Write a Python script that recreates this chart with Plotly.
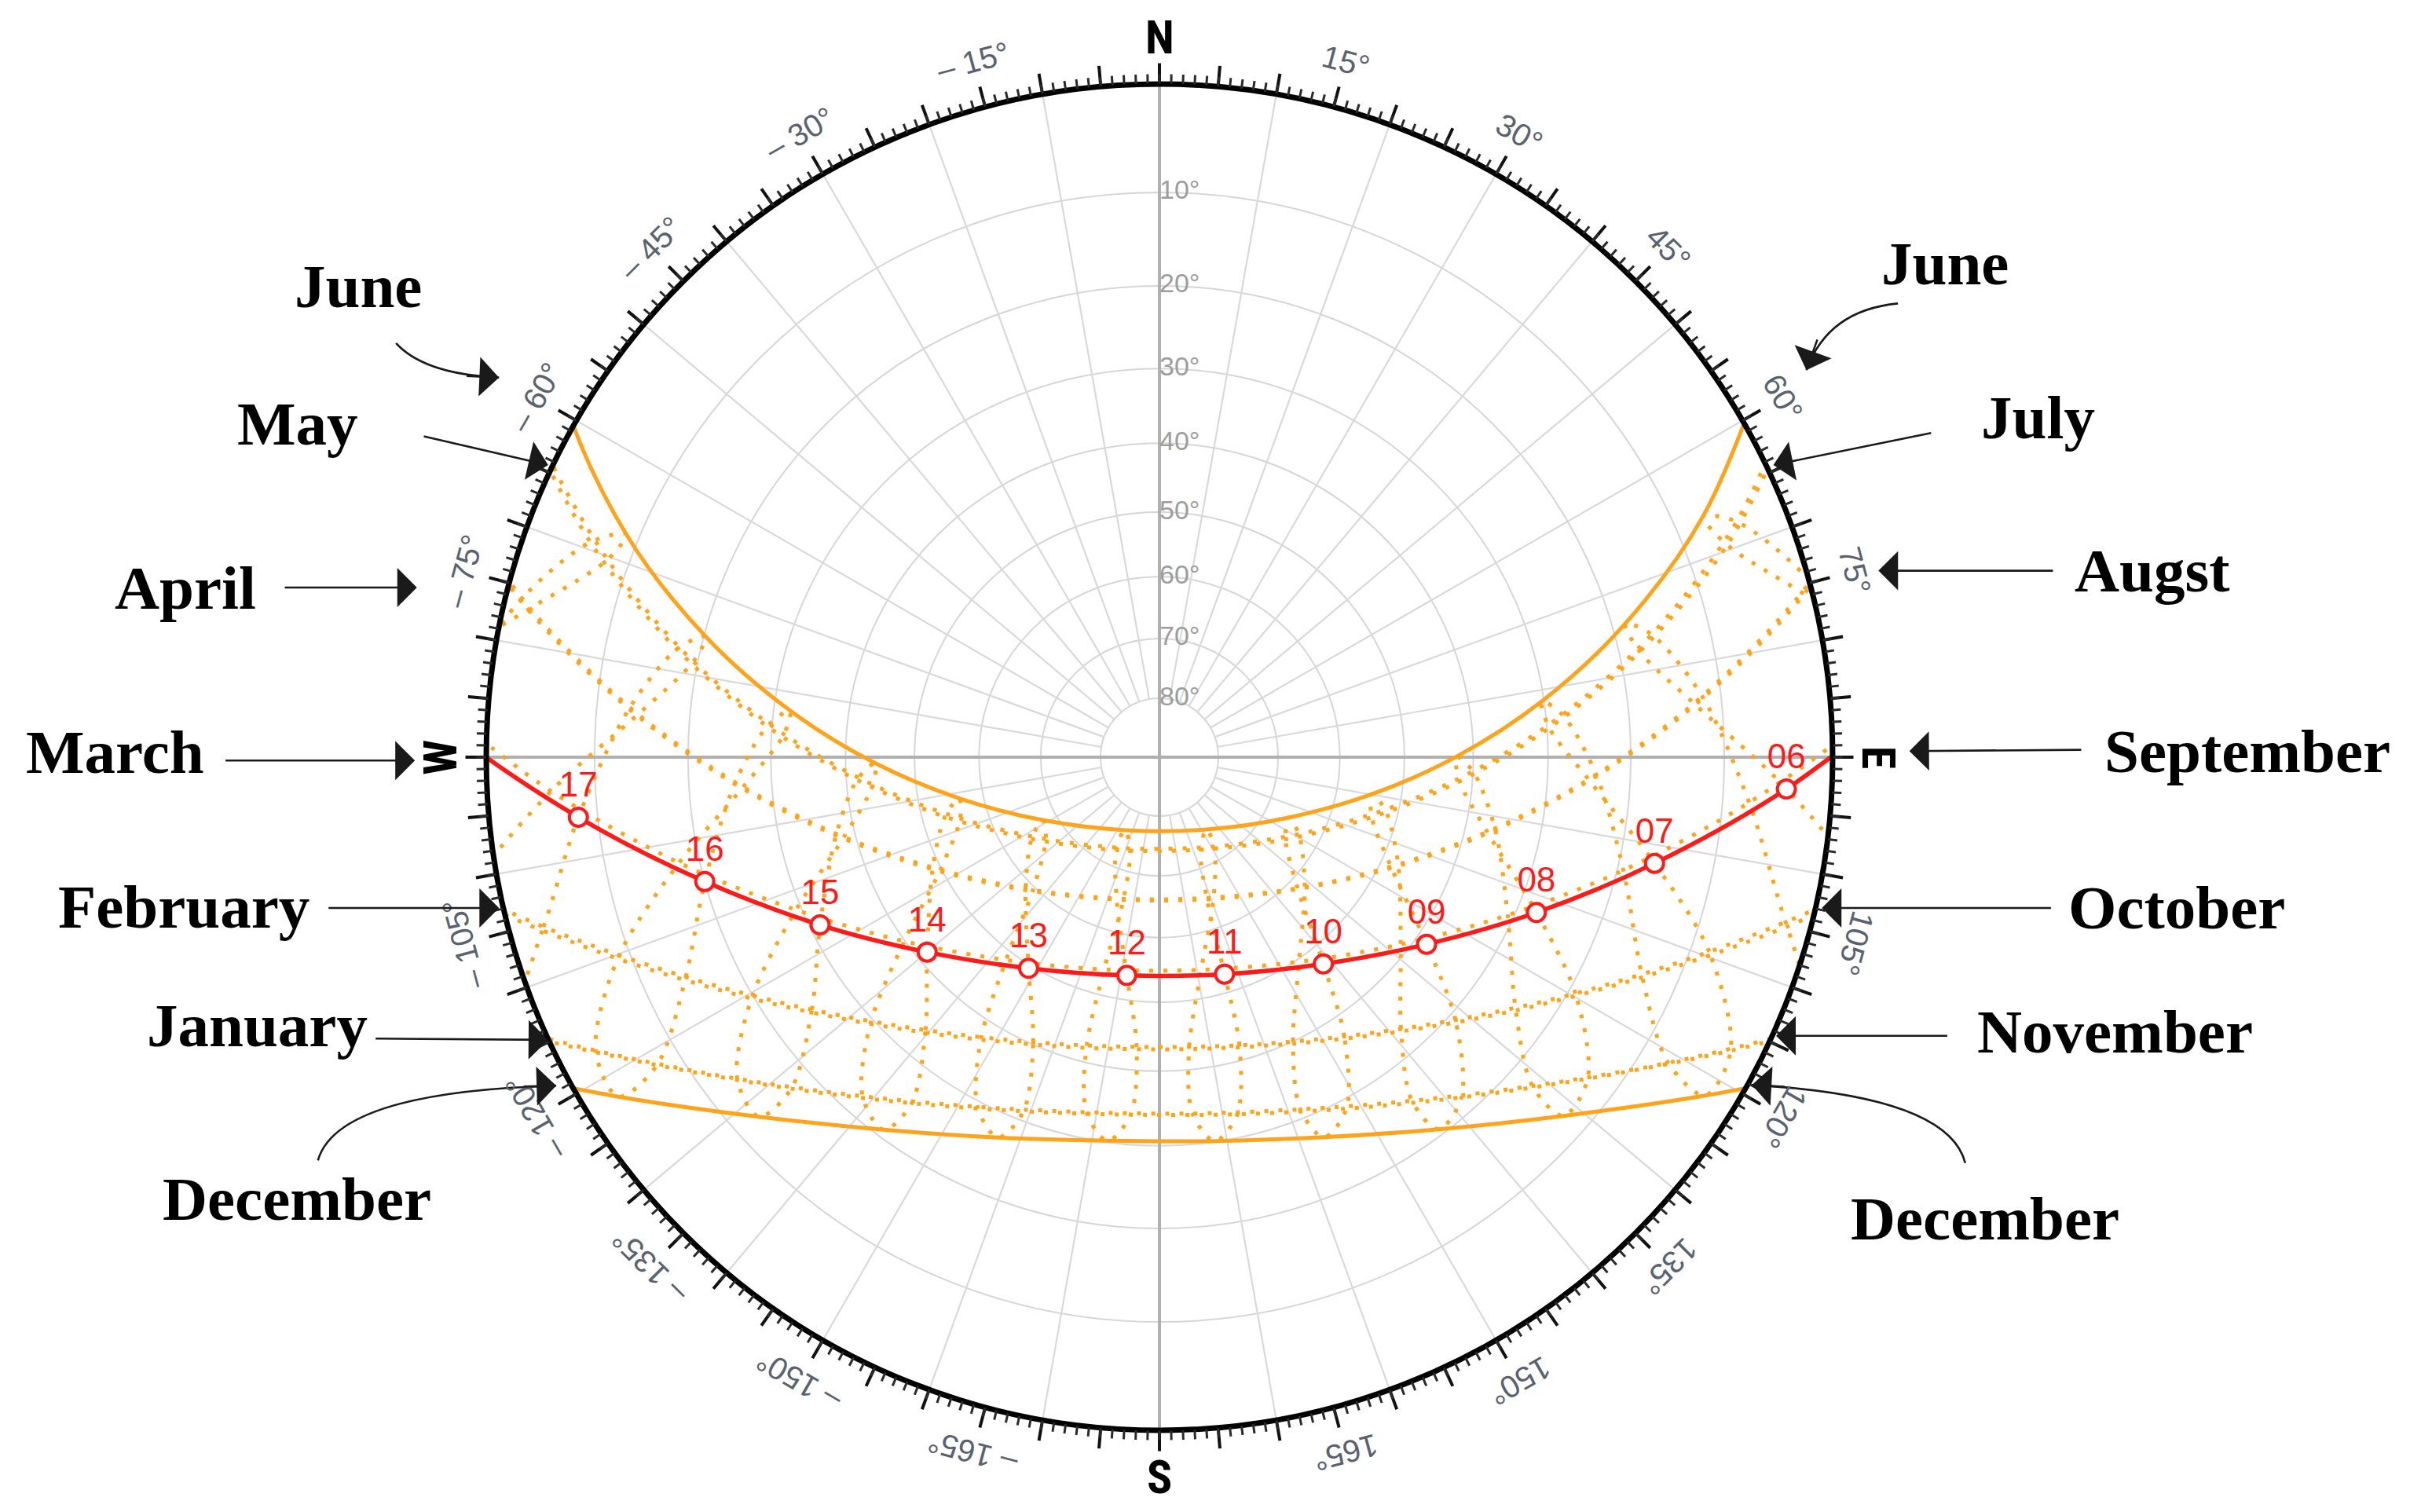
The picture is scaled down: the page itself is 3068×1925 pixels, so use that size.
import math
import plotly.graph_objects as go

# sun positions on the 21st of each month, clock hours 04..20 (None = far below horizon)
HOURS = list(range(4, 21))
MONTHS = ["Jan", "Feb", "Mar", "Apr", "May", "Jun", "Jul", "Aug", "Sep", "Oct", "Nov", "Dec"]

alt_jan = [None, None, -8.5, 2.7, 13.0, 21.9, 28.8, 33.0, 33.9, 31.2, 25.4, 17.3, 7.6, -3.2, -14.7, None, None]
az_jan = [None, None, 108.6, 117.2, 126.9, 138.4, 152.0, 167.7, 184.6, 201.0, 215.6, 228.0, 238.5, 247.5, 255.8, None, None]
alt_feb = [None, -15.6, -3.5, 8.2, 19.2, 29.1, 37.1, 42.1, 43.3, 40.3, 33.8, 24.9, 14.4, 3.0, -8.9, None, None]
az_feb = [None, 91.9, 100.5, 109.5, 119.6, 131.6, 146.5, 164.5, 184.5, 203.9, 220.6, 234.0, 245.1, 254.6, 263.3, None, None]
alt_mar = [None, -8.1, 4.0, 16.1, 27.6, 38.3, 47.2, 52.8, 53.7, 49.5, 41.5, 31.3, 20.0, 8.1, -4.0, -16.1, None]
az_mar = [None, 84.1, 92.9, 102.1, 112.4, 125.0, 141.6, 163.3, 188.5, 211.8, 230.0, 243.7, 254.7, 264.1, 272.9, 282.1, None]
alt_apr = [-10.8, 0.7, 12.7, 24.8, 36.8, 48.2, 58.3, 64.9, 65.1, 58.7, 48.8, 37.4, 25.4, 13.3, 1.3, -10.2, None]
az_apr = [66.6, 75.8, 84.4, 93.1, 103.0, 115.5, 133.6, 161.5, 196.7, 225.2, 243.7, 256.4, 266.4, 275.2, 283.8, 292.9, None]
alt_may = [-5.0, 6.0, 17.7, 29.7, 41.8, 53.7, 64.8, 72.9, 72.7, 64.6, 53.4, 41.5, 29.4, 17.4, 5.8, -5.2, -15.2]
az_may = [60.7, 69.5, 77.6, 85.7, 94.6, 105.8, 123.1, 156.0, 205.0, 237.4, 254.5, 265.7, 274.5, 282.6, 290.7, 299.5, 309.6]
alt_jun = [-3.6, 7.1, 18.5, 30.3, 42.4, 54.5, 66.1, 75.4, 76.3, 67.7, 56.2, 44.2, 32.1, 20.2, 8.7, -2.1, -11.9]
az_jun = [57.4, 66.1, 74.0, 81.7, 89.9, 99.9, 115.1, 147.0, 205.5, 241.7, 258.4, 268.8, 277.2, 284.9, 292.7, 301.3, 311.0]
alt_jul = [-6.4, 4.4, 16.0, 27.9, 40.0, 52.0, 63.4, 72.3, 73.8, 66.5, 55.6, 43.7, 31.6, 19.5, 7.9, -3.2, -13.4]
az_jul = [58.9, 67.8, 76.0, 84.0, 92.6, 103.1, 118.9, 148.5, 197.8, 234.2, 252.9, 264.5, 273.5, 281.6, 289.7, 298.3, 308.1]
alt_aug = [-11.5, -0.1, 11.9, 24.0, 36.0, 47.5, 57.7, 64.8, 65.5, 59.5, 49.8, 38.4, 26.4, 14.3, 2.3, -9.2, None]
az_aug = [65.7, 74.9, 83.6, 92.3, 102.0, 114.2, 131.8, 158.9, 194.2, 223.6, 242.8, 255.8, 265.9, 274.7, 283.3, 292.3, None]
alt_sep = [-16.7, -4.8, 7.4, 19.3, 30.8, 41.2, 49.6, 54.3, 53.9, 48.6, 39.9, 29.3, 17.7, 5.7, -6.4, None, None]
az_sep = [76.3, 85.5, 94.4, 103.7, 114.4, 127.8, 145.7, 168.9, 194.6, 217.1, 234.2, 247.2, 257.6, 266.8, 275.7, None, None]
alt_oct = [None, -9.9, 2.0, 13.5, 24.0, 33.0, 39.7, 42.9, 42.0, 37.2, 29.4, 19.7, 8.7, -2.9, -14.9, None, None]
az_oct = [None, 96.4, 105.1, 114.5, 125.4, 138.6, 155.0, 174.2, 194.1, 212.3, 227.3, 239.4, 249.6, 258.6, 267.3, None, None]
alt_nov = [None, -15.2, -3.6, 7.2, 17.1, 25.3, 31.2, 34.0, 33.4, 29.3, 22.4, 13.5, 3.3, -7.9, None, None, None]
az_nov = [None, 103.7, 111.9, 121.0, 131.4, 143.7, 158.2, 174.7, 191.6, 207.5, 221.2, 232.7, 242.5, 251.2, None, None, None]
alt_dec = [None, None, -8.0, 2.7, 12.5, 20.7, 26.8, 30.1, 30.2, 26.9, 20.9, 12.7, 3.0, -7.7, None, None, None]
az_dec = [None, None, 113.2, 121.8, 131.6, 143.1, 156.6, 171.8, 187.7, 203.0, 216.5, 228.1, 237.9, 246.6, None, None, None]

altitude = [alt_jan, alt_feb, alt_mar, alt_apr, alt_may, alt_jun, alt_jul, alt_aug, alt_sep, alt_oct, alt_nov, alt_dec]
azimuth = [az_jan, az_feb, az_mar, az_apr, az_may, az_jun, az_jul, az_aug, az_sep, az_oct, az_nov, az_dec]

SOLID_MONTHS = ["Jun", "Dec"]
TODAY = "Mar"  # red path with hour markers

ALT_RINGS = [10, 20, 30, 40, 50, 60, 70, 80]
AZ_LABELS = [a for a in range(15, 360, 15) if a % 90]
CARDINALS = [("N", 0, 0), ("E", 90, 90), ("S", 180, 0), ("W", 270, -90)]

# month call-outs: text position, arrow start, (curve control), arrow tip - in horizon radii
LABELS = [
    ("June", -1.19, 0.70), ("May", -1.28, 0.495), ("April", -1.447, 0.252), ("March", -1.551, 0.008),
    ("February", -1.449, -0.222), ("January", -1.34, -0.398), ("December", -1.281, -0.656),
    ("June", 1.167, 0.733), ("July", 1.305, 0.505), ("Augst", 1.475, 0.277), ("September", 1.616, 0.009),
    ("October", 1.511, -0.224), ("November", 1.42, -0.408), ("December", 1.226, -0.686),
]
STRAIGHT_ARROWS = [
    (-1.0945, 0.477, -0.908, 0.434), (-1.301, 0.252, -1.103, 0.252), (-1.389, -0.005, -1.106, -0.005),
    (-1.236, -0.224, -0.981, -0.224), (-1.166, -0.418, -0.908, -0.42),
    (1.148, 0.482, 0.912, 0.434), (1.329, 0.277, 1.068, 0.277), (1.371, 0.011, 1.114, 0.009),
    (1.326, -0.224, 0.984, -0.224), (1.172, -0.414, 0.916, -0.414),
]
CURVED_ARROWS = [
    (-1.134, 0.615, -1.092, 0.569, -0.981, 0.564),
    (-1.25, -0.599, -1.221, -0.497, -0.896, -0.488),
    (1.097, 0.674, 0.993, 0.664, 0.961, 0.575),
    (1.197, -0.603, 1.172, -0.503, 0.88, -0.487),
]

# page body keeps an 8px margin, so the figure is drawn 8px in from the window corner
W, H = 3052, 1909
CX, CY, R = 1468, 956, 857
ORANGE = "#FFA31A"
RED = "#FF1A1A"


def stereo(alt):
    # stereographic sky projection: zenith at centre, horizon at r = 1
    return None if alt is None else math.tan(math.radians(90 - alt) / 2)


fig = go.Figure()

# grid: azimuth spokes from the 80 deg ring outward, darker N-S / E-W cross
sr, st = [], []
for a in range(0, 360, 10):
    if a % 90:
        sr += [stereo(80), 1, None]
        st += [a, a, None]
fig.add_trace(go.Scatterpolar(r=sr, theta=st, mode="lines", line=dict(color="#d9d9d9", width=2.2),
                              hoverinfo="skip", subplot="polar"))
fig.add_trace(go.Scatterpolar(r=[1, 0, 1, None, 1, 0, 1], theta=[0, 0, 180, None, 90, 90, 270], mode="lines",
                              line=dict(color="#b0b0b0", width=4), hoverinfo="skip", subplot="polar"))

dotted = dict(color=ORANGE, width=5, dash="5px,13px", shape="spline", smoothing=0.9)

# hour lines (analemmas)
for j, h in enumerate(HOURS):
    rr = [stereo(altitude[m][j]) for m in range(12)]
    tt = [azimuth[m][j] for m in range(12)]
    fig.add_trace(go.Scatterpolar(r=rr + rr[:1], theta=tt + tt[:1], mode="lines", line=dotted,
                                  hoverinfo="skip", subplot="polar"))

# day paths
for m, name in enumerate(MONTHS):
    rr = [stereo(v) for v in altitude[m]]
    if name in SOLID_MONTHS:
        line = dict(color=ORANGE, width=5, shape="spline", smoothing=1)
    else:
        line = dotted
    fig.add_trace(go.Scatterpolar(r=rr, theta=azimuth[m], mode="lines", line=line,
                                  hoverinfo="skip", subplot="polar"))

# today's path with hour markers
t = MONTHS.index(TODAY)
fig.add_trace(go.Scatterpolar(r=[stereo(v) for v in altitude[t]], theta=azimuth[t], mode="lines",
                              line=dict(color=RED, width=5.5, shape="spline", smoothing=1),
                              hoverinfo="skip", subplot="polar"))
up = [j for j, v in enumerate(altitude[t]) if v is not None and v > 0]
fig.add_trace(go.Scatterpolar(
    r=[stereo(altitude[t][j]) for j in up], theta=[azimuth[t][j] for j in up],
    text=[f"{HOURS[j]:02d}" for j in up], mode="markers+text", textposition="top center",
    textfont=dict(family="Liberation Sans, Arial", size=44, color=RED),
    marker=dict(size=23, color="white", line=dict(color=RED, width=4)),
    hoverinfo="skip", subplot="polar"))

# altitude ring labels
fig.add_trace(go.Scatterpolar(r=[stereo(a) for a in ALT_RINGS], theta=[0] * len(ALT_RINGS),
                              text=[f"{a}°" for a in ALT_RINGS], mode="text", textposition="middle right",
                              textfont=dict(family="Liberation Sans, Arial", size=34, color="#9d9d9d"),
                              hoverinfo="skip", subplot="polar"))

# invisible trace so the minor-tick ring is drawn
fig.add_trace(go.Scatterpolar(r=[0], theta=[0], mode="markers", marker=dict(opacity=0),
                              hoverinfo="skip", subplot="polar2"))

dom_x = [(CX - R) / W, (CX + R) / W]
dom_y = [(H - CY - R) / H, (H - CY + R) / H]
fig.update_layout(
    width=W, height=H, margin=dict(l=0, r=0, t=0, b=0), showlegend=False,
    paper_bgcolor="white", plot_bgcolor="rgba(0,0,0,0)",
    polar=dict(
        domain=dict(x=dom_x, y=dom_y), bgcolor="white",
        radialaxis=dict(range=[0, 1], tickvals=[stereo(a) for a in ALT_RINGS], showticklabels=False,
                        ticks="", showline=False, gridcolor="#d6d6d6", gridwidth=2.2),
        angularaxis=dict(rotation=90, direction="clockwise", showgrid=False, showticklabels=False,
                         showline=True, linecolor="black", linewidth=7,
                         tickmode="linear", tick0=0, dtick=5, ticks="outside", ticklen=23,
                         tickwidth=4, tickcolor="#111"),
    ),
    polar2=dict(
        domain=dict(x=dom_x, y=dom_y), bgcolor="rgba(0,0,0,0)",
        radialaxis=dict(visible=False, range=[0, 1]),
        angularaxis=dict(rotation=90, direction="clockwise", showgrid=False, showticklabels=False,
                         showline=False, tickmode="linear", tick0=0, dtick=1, ticks="outside",
                         ticklen=12, tickwidth=2.6, tickcolor="#2a2a2a"),
    ),
    xaxis=dict(visible=False, range=[-CX / R, (W - CX) / R], domain=[0, 1], fixedrange=True),
    yaxis=dict(visible=False, range=[-(H - CY) / R, CY / R], domain=[0, 1], fixedrange=True),
)

# azimuth degree labels around the rim
rho = 1.07
for a in AZ_LABELS:
    signed = a if a < 180 else a - 360
    txt = f"{a}°" if a < 180 else f"– {-signed}°"
    fig.add_annotation(x=rho * math.sin(math.radians(a)), y=rho * math.cos(math.radians(a)), xref="x", yref="y",
                       text=txt, showarrow=False, textangle=signed,
                       font=dict(family="Liberation Sans, Arial", size=40, color="#5a6270"))
for name, a, ang in CARDINALS:
    fig.add_annotation(x=1.069 * math.sin(math.radians(a)), y=1.069 * math.cos(math.radians(a)), xref="x", yref="y",
                       text=f"<b>{name}</b>", showarrow=False, textangle=ang,
                       font=dict(family="Liberation Sans Narrow, Roboto Condensed, Liberation Sans", size=60,
                                 color="black"))

# month call-outs
for txt, x, y in LABELS:
    fig.add_annotation(x=x, y=y, xref="x", yref="y", text=f"<b>{txt}</b>", showarrow=False,
                       font=dict(family="Liberation Serif, Times New Roman, serif", size=79, color="black"))
arrow = dict(showarrow=True, arrowhead=1, arrowsize=3.2, arrowwidth=2.6, arrowcolor="#1a1a1a",
             xref="x", yref="y", axref="x", ayref="y", text="", standoff=0, startstandoff=0)
for x0, y0, x1, y1 in STRAIGHT_ARROWS:
    fig.add_annotation(x=x1, y=y1, ax=x0, ay=y0, **arrow)
for x0, y0, qx, qy, x1, y1 in CURVED_ARROWS:
    fig.add_shape(type="path", path=f"M {x0},{y0} Q {qx},{qy} {x1},{y1}", xref="x", yref="y",
                  line=dict(color="#1a1a1a", width=2.6))
    dx, dy = x1 - qx, y1 - qy
    n = math.hypot(dx, dy)
    fig.add_annotation(x=x1, y=y1, ax=x1 - 0.05 * dx / n, ay=y1 - 0.05 * dy / n, **arrow)

fig.write_html("out.html")
